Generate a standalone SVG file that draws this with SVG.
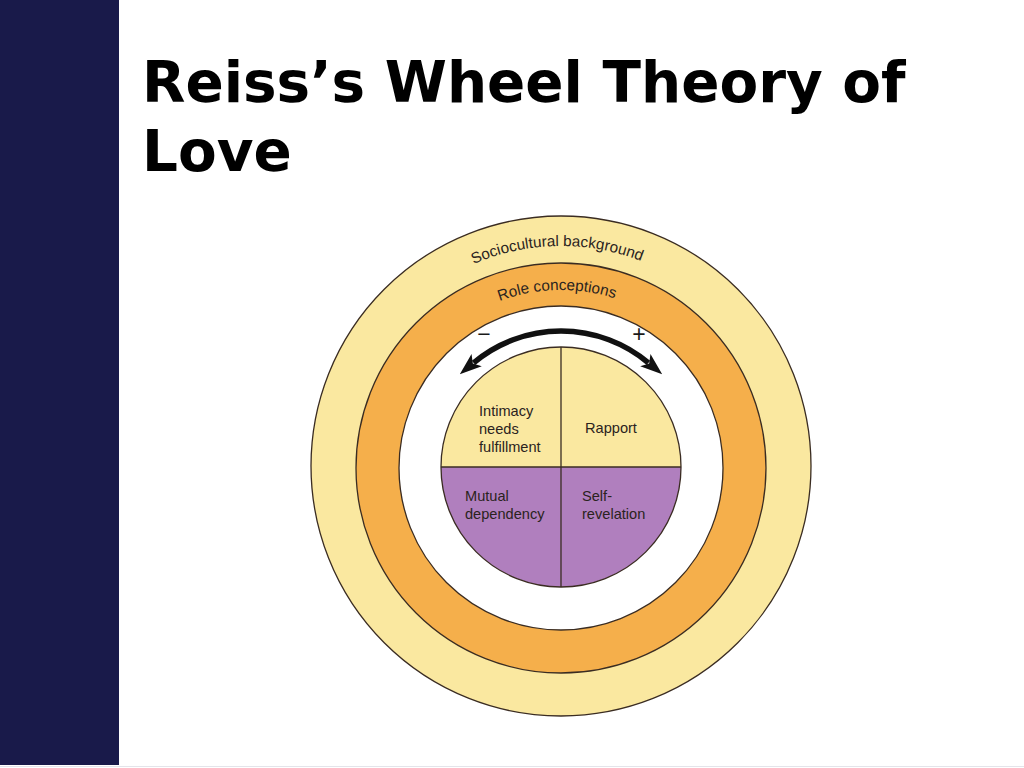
<svg xmlns="http://www.w3.org/2000/svg" width="1024" height="768" viewBox="0 0 1024 768">
<style>
.title{font-family:"DejaVu Sans",Verdana,sans-serif;font-weight:bold;font-size:56.4px;fill:#000}
.lbl{font-family:"Liberation Sans",Arial,sans-serif;font-size:14.6px;fill:#2a2320}
.ring{font-family:"Liberation Sans",Arial,sans-serif;font-size:15.3px;fill:#2a2320}
.sign{font-family:"Liberation Sans",Arial,sans-serif;font-size:23px;fill:#1a1a1a;text-anchor:middle}
.edge{stroke:#3a2c22;stroke-width:1.3}
</style>
<defs>
<marker id="ah" viewBox="0 0 22 16" refX="4" refY="8" markerWidth="22" markerHeight="16" markerUnits="userSpaceOnUse" orient="auto-start-reverse">
<path d="M0,0 L22,8 L0,16 L5,8 Z" fill="#111"/>
</marker>
<path id="arcSocio" d="M 369.6 356.5 A 221 221 0 0 1 752.4 356.5"/>
<path id="arcRole" d="M 407.7 378.5 A 177 177 0 0 1 714.3 378.5"/>
</defs>
<rect width="1024" height="768" fill="#fff"/>
<rect x="0" y="0" width="119" height="765" fill="#191a4a"/>
<line x1="0" y1="766.5" x2="1024" y2="766.5" stroke="#e4e4ea" stroke-width="1"/>
<g id="title">
<text class="title" x="142" y="102">Reiss’s Wheel Theory of</text>
<text class="title" x="142" y="171">Love</text>
</g>
<g id="sociocultural">
<circle cx="561" cy="466" r="250" fill="#fae8a0" class="edge"/>
<text class="ring" transform="rotate(-1 561 467)"><textPath href="#arcSocio" startOffset="50%" text-anchor="middle">Sociocultural background</textPath></text>
</g>
<g id="role">
<circle cx="561" cy="468" r="205" fill="#f5af4b" class="edge"/>
<text class="ring" transform="rotate(-1.3 561 467)"><textPath href="#arcRole" startOffset="50%" text-anchor="middle">Role conceptions</textPath></text>
</g>
<g id="inner-space">
<circle cx="561" cy="468" r="162" fill="#fff" class="edge"/>
</g>
<g id="wheel">
<path d="M 441 467 A 120 120 0 0 1 681 467 Z" fill="#fae8a0"/>
<path d="M 441 467 A 120 120 0 0 0 681 467 Z" fill="#b07fbe"/>
<circle cx="561" cy="467" r="120" fill="none" class="edge"/>
<line x1="441" y1="467" x2="681" y2="467" class="edge"/>
<line x1="561" y1="347" x2="561" y2="587" class="edge"/>
</g>
<g id="intimacy">
<text class="lbl" x="479" y="416">Intimacy</text>
<text class="lbl" x="479" y="434">needs</text>
<text class="lbl" x="479" y="452">fulfillment</text>
</g>
<g id="rapport">
<text class="lbl" x="585" y="433">Rapport</text>
</g>
<g id="mutual">
<text class="lbl" x="465" y="501">Mutual</text>
<text class="lbl" x="465" y="519">dependency</text>
</g>
<g id="self">
<text class="lbl" x="582" y="501">Self-</text>
<text class="lbl" x="582" y="519">revelation</text>
</g>
<g id="connectors">
<path d="M 473.6 362.8 A 136 136 0 0 1 648.4 362.8" fill="none" stroke="#111" stroke-width="5.5" marker-start="url(#ah)" marker-end="url(#ah)"/>
<text class="sign" x="484" y="342">−</text>
<text class="sign" x="639" y="342">+</text>
</g>
</svg>
